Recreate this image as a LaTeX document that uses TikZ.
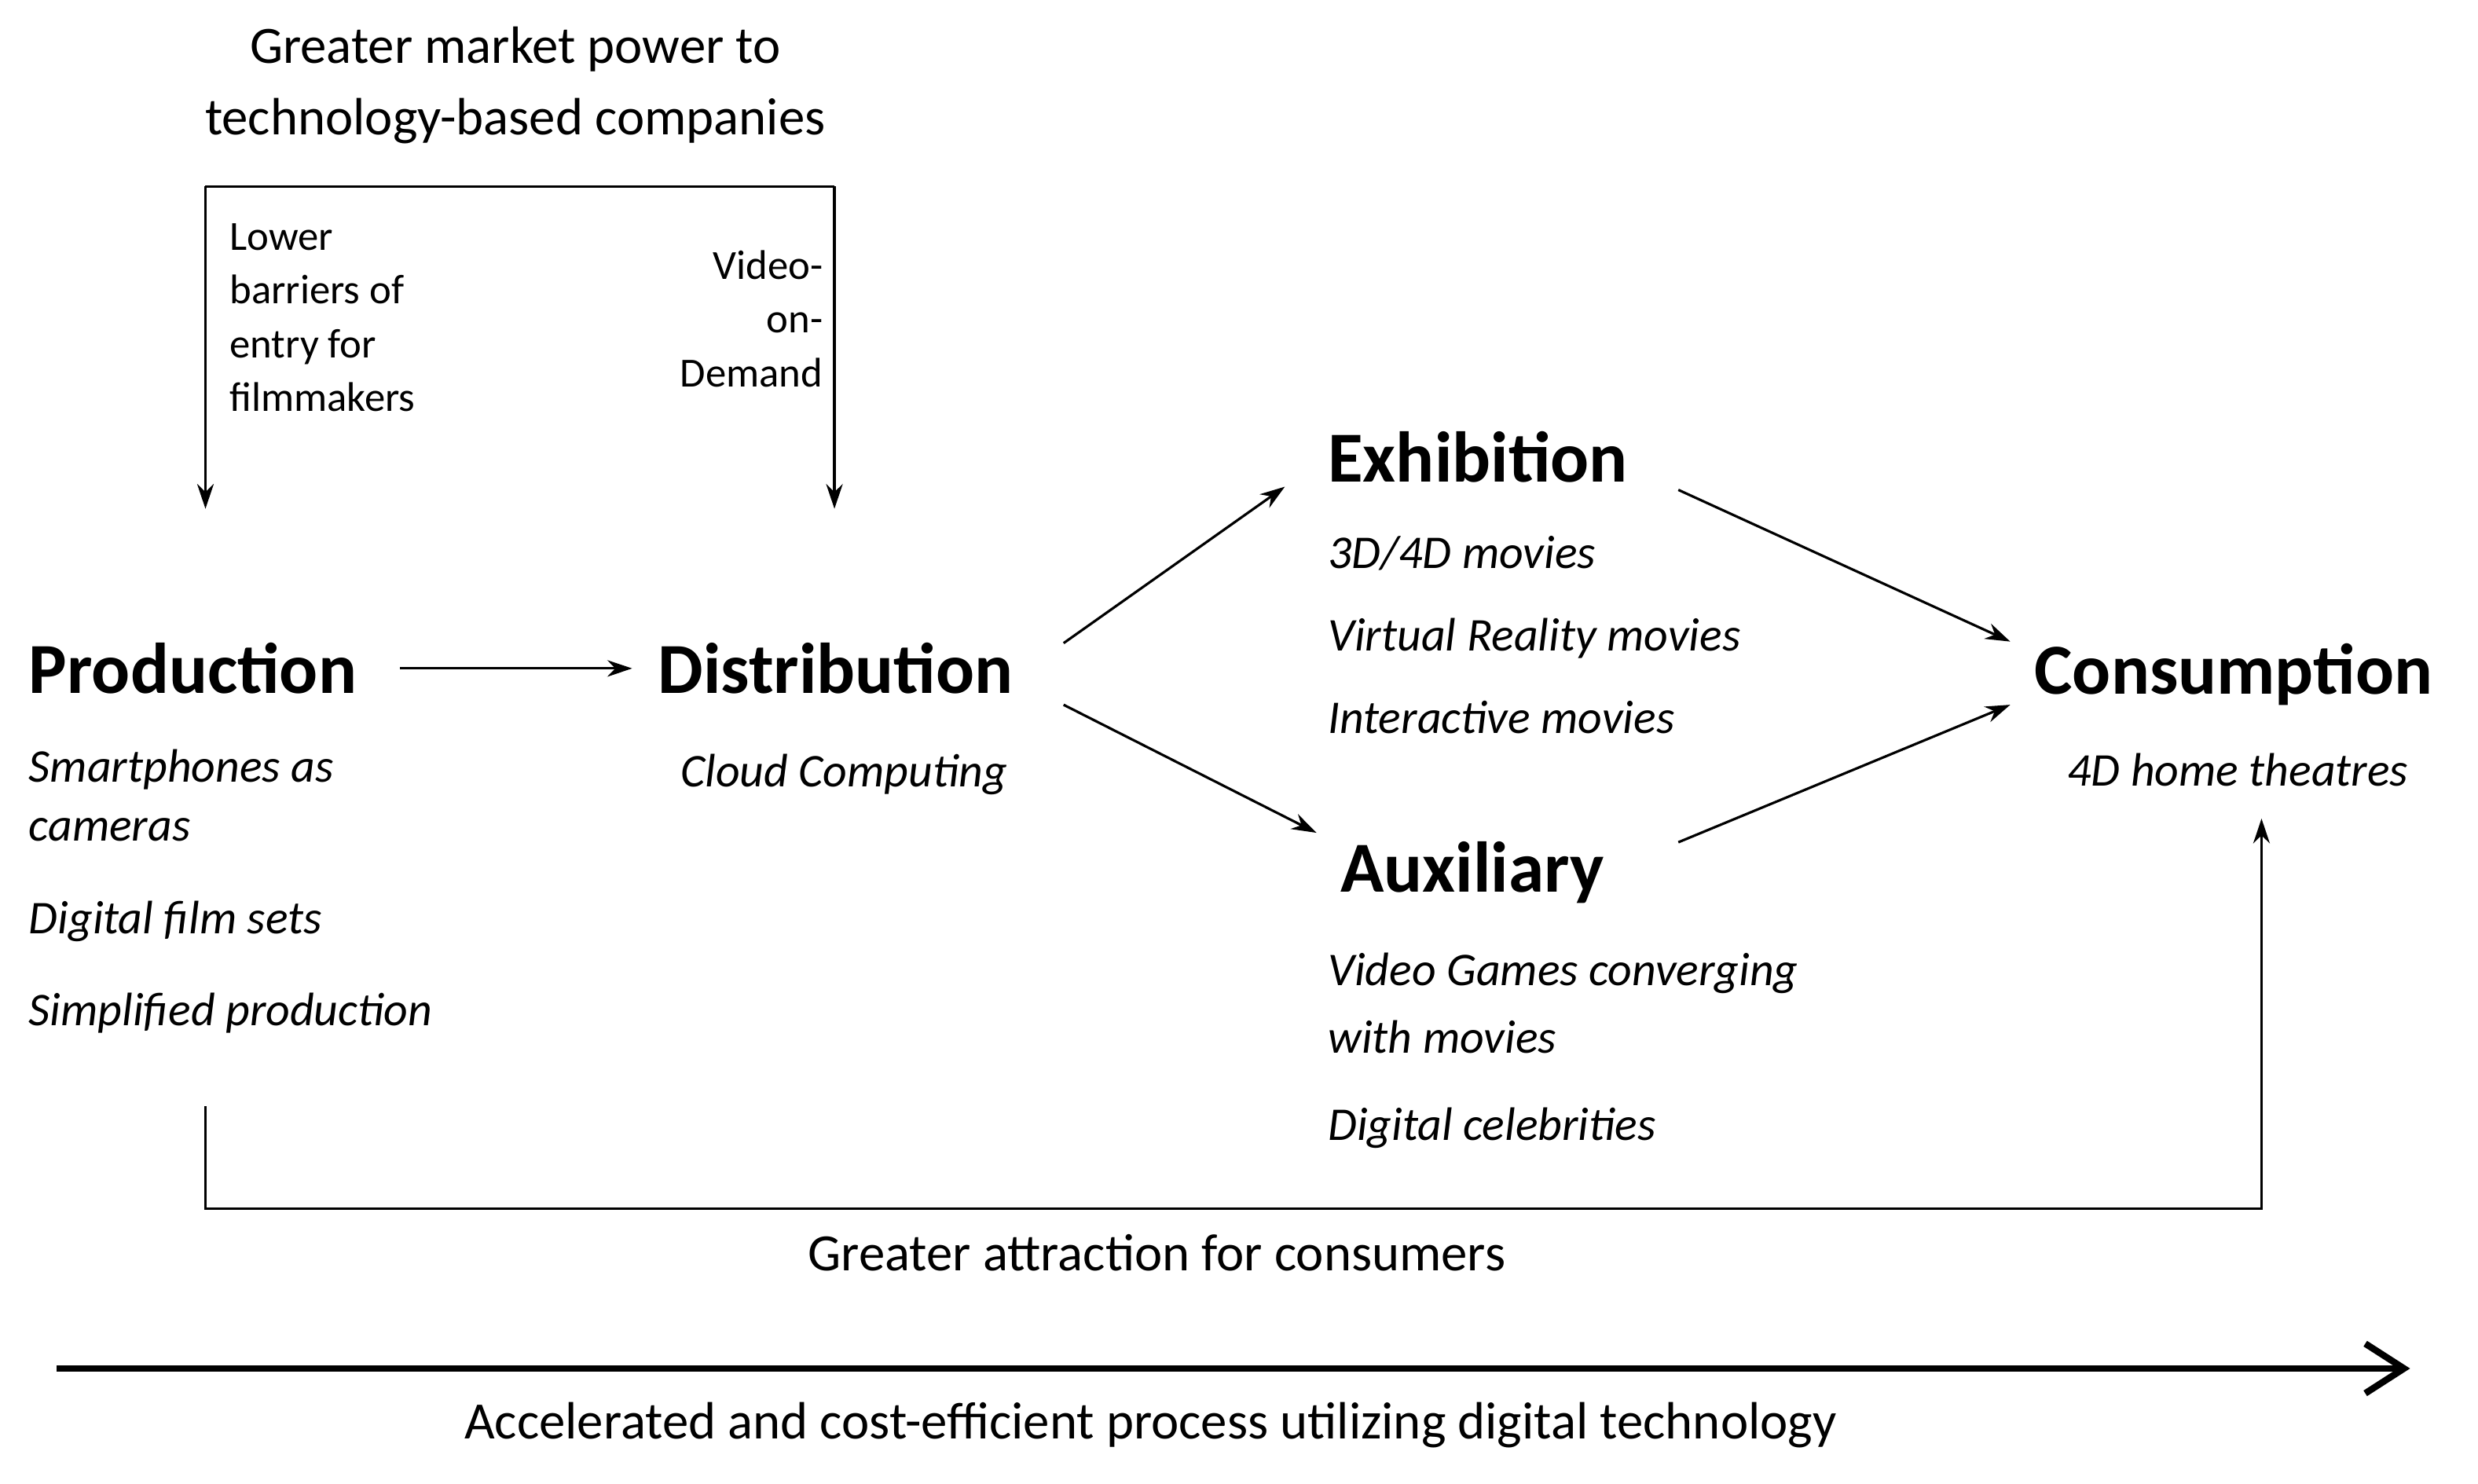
\documentclass[tikz,border=0pt]{standalone}
\usepackage{fontspec}
\setmainfont{Carlito}
\usetikzlibrary{arrows.meta}
\begin{document}
\begin{tikzpicture}[x=0.020115cm,y=-0.020115cm,
 hd/.style={font=\fontsize{26}{30}\selectfont\bfseries,inner sep=0},
 nt/.style={font=\fontsize{19}{26}\selectfont,inner sep=0,align=center},
 it/.style={font=\fontsize{17}{20}\selectfont\itshape,inner sep=0,anchor=west},
 sm/.style={font=\fontsize{15}{19.5}\selectfont,inner sep=0},
 ar/.style={-{Stealth[length=9pt,width=6pt]},line width=0.9pt},
 ln/.style={line width=0.9pt}]
\useasboundingbox (0,0) rectangle (1568,939);
\node[nt] (top) at (326,54) {Greater market power to\\technology-based companies};
\coordinate (tl) at (130,118); \coordinate (tr) at (528,118);
\coordinate (pl) at (130,322); \coordinate (dr) at (528,322);
\draw[ln] (tl) -- (tr);
\draw[ar] (tl) -- (pl);
\draw[ar] (tr) -- (dr);
\node[sm,anchor=north west,align=left] (lb) at (145,141) {Lower\\barriers of\\entry for\\filmmakers};
\node[sm,anchor=north east,align=right] (vd) at (521,158) {Video-\\on-\\Demand};
\node[hd,anchor=west] (prod) at (18,423) {Production};
\node[hd,anchor=west] (dist) at (416,423) {Distribution};
\node[hd,anchor=west] (exh) at (840,289) {Exhibition};
\node[hd,anchor=west] (aux) at (848,552) {Auxiliary};
\node[hd,anchor=west] (cons) at (1287,427) {Consumption};
\draw[ar] (253,423) -- (400,423);
\draw[ar] (673,407) -- (813,308);
\draw[ar] (673,446) -- (833,527);
\draw[ar] (1062,310) -- (1272,406);
\draw[ar] (1062,533) -- (1272,446);
\node[it] (p1) at (18,487) {Smartphones as};
\node[it] (p2) at (18,525) {cameras};
\node[it] (p3) at (18,583) {Digital film sets};
\node[it] (p4) at (18,641) {Simplified production};
\node[it,anchor=center] (d1) at (534,490) {Cloud Computing};
\node[it] (e1) at (840,350) {3D/4D movies};
\node[it] (e2) at (840,404) {Virtual Reality movies};
\node[it] (e3) at (840,454) {Interactive movies};
\node[it] (a1) at (840,616) {Video Games converging};
\node[it] (a2) at (840,656) {with movies};
\node[it] (a3) at (840,714) {Digital celebrities};
\node[it,anchor=center] (c1) at (1416,487) {4D home theatres};
\coordinate (b1) at (130,700); \coordinate (b2) at (130,765);
\coordinate (b3) at (1431,765); \coordinate (b4) at (1431,518);
\draw[ar] (b1) -- (b2) -- (b3) -- (b4);
\node[nt] (ga) at (732,793) {Greater attraction for consumers};
\coordinate (t1) at (36,866); \coordinate (t2) at (1525,866);
\draw[line width=2.4pt,-{Straight Barb[length=14pt,width=18pt]}] (t1) -- (t2);
\node[nt] (acc) at (728,902) {Accelerated and cost-efficient process utilizing digital technology};
\end{tikzpicture}
\end{document}
